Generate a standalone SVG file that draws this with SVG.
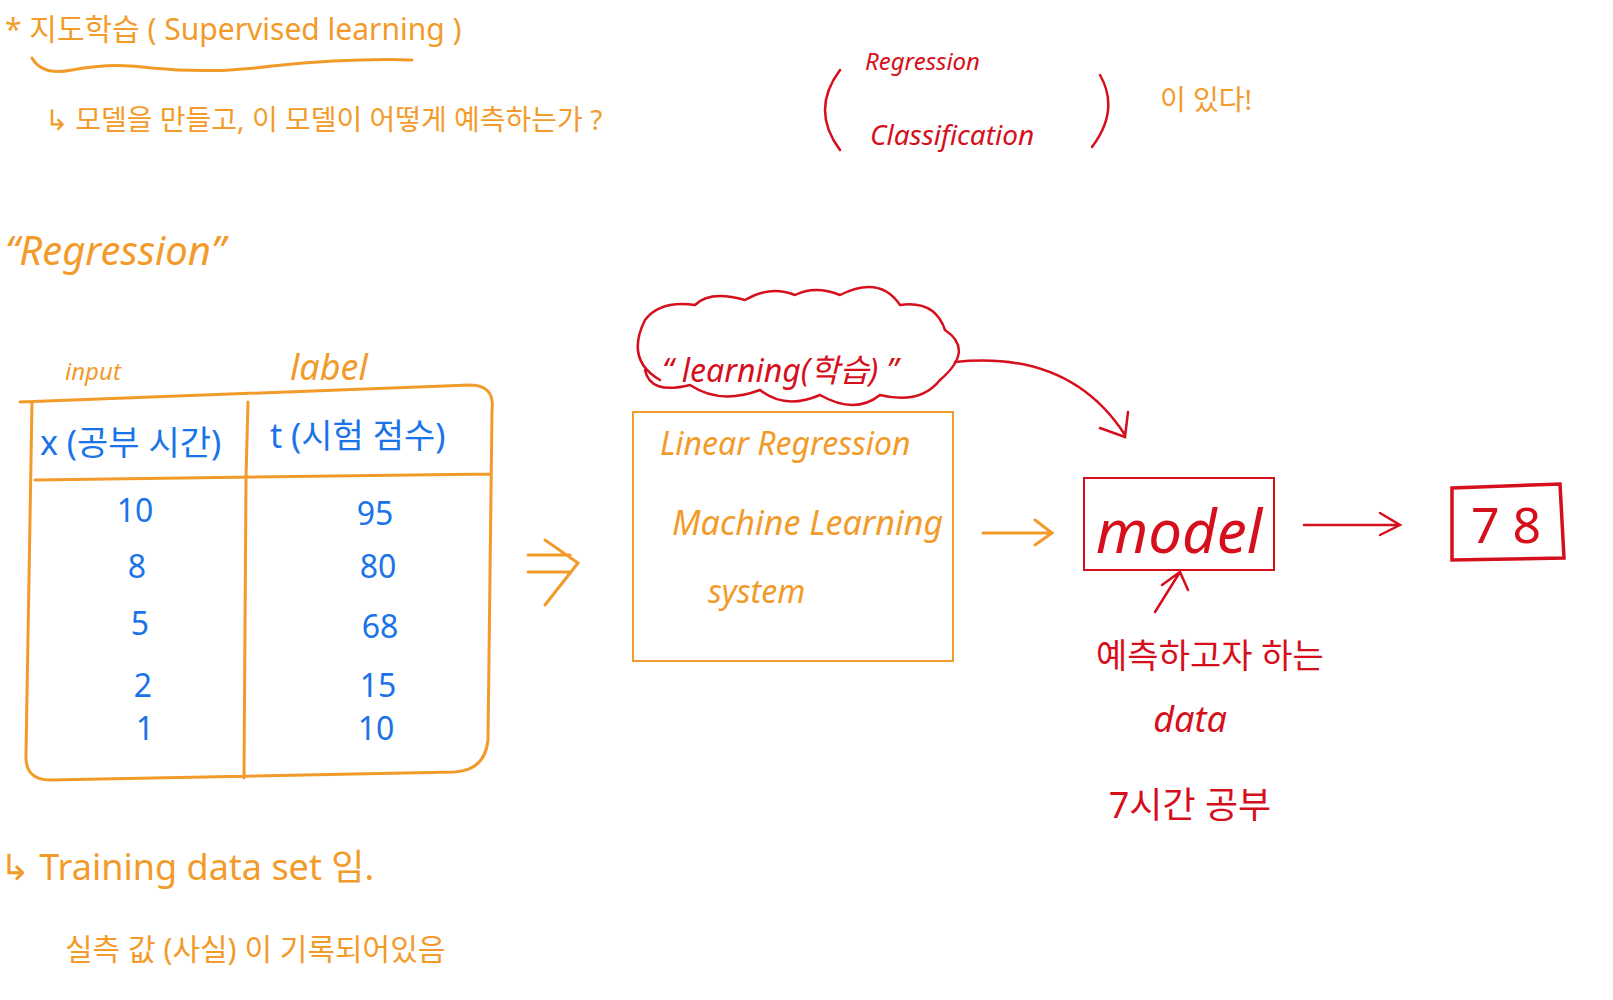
<svg xmlns="http://www.w3.org/2000/svg" width="1613" height="1000" viewBox="0 0 1613 1000">
<style>
.o{fill:#f29b2a;font-family:"Noto Sans","Noto Sans CJK KR",sans-serif}
.b{fill:#1a74e8;font-family:"Noto Sans","Noto Sans CJK KR",sans-serif}
.r{fill:#d5101c;font-family:"Noto Sans","Noto Sans CJK KR",sans-serif}
.so{stroke:#f29b2a;fill:none;stroke-width:3;stroke-linecap:round}
.sr{stroke:#d5101c;fill:none;stroke-width:2.5;stroke-linecap:round}
</style>
<rect width="1613" height="1000" fill="#fff"/>
<g id="title">
<text class="o" x="5" y="40" font-size="30">* 지도학습 ( Supervised  learning )</text>
<path class="so" d="M32 58 q10 18 40 12 q40 -8 80 -2 q60 6 120 -2 q80 -8 140 -6"/>
<text class="o" x="45" y="130" font-size="28">↳ 모델을 만들고, 이 모델이 어떻게 예측하는가 ?</text>
<text class="r" x="865" y="70" font-size="24" font-style="italic">Regression</text>
<text class="r" x="870" y="145" font-size="28" font-style="italic">Classification</text>
<path class="sr" d="M840 70 q-30 40 0 80 M1100 75 q20 35 -8 72"/>
<text class="o" x="1160" y="110" font-size="28">이 있다!</text>
<text class="o" x="5" y="265" font-size="40" font-style="italic">“Regression”</text>
</g>
<g id="table">
<text class="o" x="65" y="380" font-size="24" font-style="italic">input</text>
<text class="o" x="290" y="380" font-size="36" font-style="italic">label</text>
<path class="so" d="M20 402 L470 385 Q495 385 492 410 L488 740 Q485 770 455 772 L50 780 Q25 780 26 755 L32 402 M35 480 L490 474 M248 402 L246 478 L244 778"/>
<text class="b" x="40" y="455" font-size="34">x (공부 시간)</text>
<text class="b" x="270" y="448" font-size="34">t (시험 점수)</text>
<g class="b" font-size="32" text-anchor="middle">
<text x="135" y="522">10</text><text x="375" y="525">95</text>
<text x="137" y="578">8</text><text x="378" y="578">80</text>
<text x="140" y="635">5</text><text x="380" y="638">68</text>
<text x="143" y="697">2</text><text x="378" y="697">15</text>
<text x="145" y="740">1</text><text x="376" y="740">10</text>
</g>
<text class="o" x="0" y="880" font-size="36">↳ Training  data set  임.</text>
<text class="o" x="65" y="960" font-size="30">실측 값 (사실) 이 기록되어있음</text>
</g>
<g id="learning">
<path class="sr" d="M660 380 q-35 -20 -15 -60 q15 -20 50 -15 q15 -15 50 -5 q25 -15 50 -5 q20 -10 45 0 q40 -20 60 10 q35 -5 45 25 q30 20 -5 50 q-20 25 -60 15 q-25 20 -60 0 q-35 15 -60 -5 q-40 15 -70 -5 q-40 10 -45 -15"/>
<text class="r" x="662" y="382" font-size="32" font-style="italic">“ learning(학습) ”</text>
</g>
<g id="system">
<rect x="633" y="412" width="320" height="249" fill="none" stroke="#f29b2a" stroke-width="2"/>
<text class="o" x="660" y="455" font-size="32" font-style="italic">Linear  Regression</text>
<text class="o" x="672" y="535" font-size="34" font-style="italic">Machine  Learning</text>
<text class="o" x="708" y="603" font-size="32" font-style="italic">system</text>
</g>
<g id="model">
<rect x="1084" y="478" width="190" height="92" fill="none" stroke="#d5101c" stroke-width="2"/>
<text class="r" x="1179" y="553" font-size="60" font-style="italic" text-anchor="middle">model</text>
</g>
<g id="result">
<path d="M1452 488 L1560 484 L1564 558 L1452 560 Z" fill="none" stroke="#d5101c" stroke-width="3.5"/>
<text class="r" x="1506" y="543" font-size="50" text-anchor="middle">7 8</text>
</g>
<g id="data">
<text class="r" x="1210" y="668" font-size="34" text-anchor="middle">예측하고자 하는</text>
<text class="r" x="1190" y="732" font-size="36" font-style="italic" text-anchor="middle">data</text>
<text class="r" x="1190" y="818" font-size="36" text-anchor="middle">7시간 공부</text>
</g>
<g id="connectors">
<path class="so" d="M528 555 L570 555 M528 572 L570 572 M545 540 L578 563 L545 605"/>
<path class="so" d="M983 533 L1052 533 M1035 520 L1052 533 L1035 545"/>
<path class="sr" d="M955 362 Q1070 350 1125 435 M1100 428 L1125 437 L1128 412"/>
<path class="sr" d="M1304 525 L1400 525 M1380 513 L1400 525 L1380 535"/>
<path class="sr" d="M1155 612 L1180 572 M1162 585 L1180 572 L1188 590"/>
</g>
</svg>
